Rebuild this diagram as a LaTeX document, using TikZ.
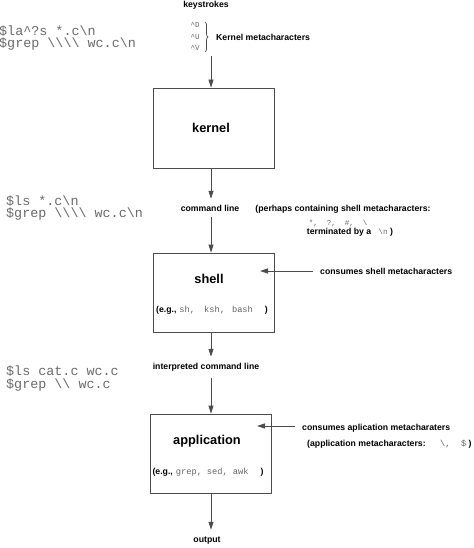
\documentclass[tikz,border=0pt]{standalone}
\usepackage{fontspec}
\setmainfont{Liberation Sans}
\newfontfamily\mymono{Liberation Mono}
\usetikzlibrary{arrows.meta,decorations.pathreplacing}
\begin{document}
\begin{tikzpicture}[x=1bp,y=-1bp,
  lbl/.style={inner sep=0pt,font=\fontsize{8.7bp}{10bp}\selectfont\bfseries},
  big/.style={inner sep=0pt,font=\fontsize{12.8bp}{14bp}\selectfont\bfseries},
  cmdtxt/.style={inner sep=0pt,anchor=west,text=black!58,font=\fontsize{13.4bp}{15bp}\selectfont\mymono},
  smono/.style={inner sep=0pt,text=black!60,font=\fontsize{7.5bp}{9bp}\selectfont\mymono},
  box/.style={draw=black!70,line width=0.8bp,minimum width=121bp,minimum height=79bp,inner sep=0pt},
  arr/.style={draw=black!70,line width=0.8bp,-{Triangle[length=8bp,width=5bp]}},
  plain/.style={draw=black!70,line width=0.8bp}
]
\useasboundingbox[fill=white] (0,0) rectangle (474,548);
\newcommand{\bs}{\textbackslash}
\newcommand{\ms}[1]{{\mymono\mdseries\color{black!60}#1}}

% left command text
\node[cmdtxt] (c1a) at (-1,31) {\$la\textasciicircum?s *.c\bs n};
\node[cmdtxt] (c1b) at (-1,44.5) {\$grep \bs\bs\bs\bs{} wc.c\bs n};
\node[cmdtxt] (c2a) at (6,201) {\$ls *.c\bs n};
\node[cmdtxt] (c2b) at (6,214.5) {\$grep \bs\bs\bs\bs{} wc.c\bs n};
\node[cmdtxt] (c3a) at (6,371) {\$ls cat.c wc.c};
\node[cmdtxt] (c3b) at (6,385) {\$grep \bs\bs{} wc.c};

% keystrokes
\node[lbl] (keys) at (206,5) {keystrokes};
\node[smono] (kd) at (195,25) {\textasciicircum D};
\node[smono] (ku) at (195,37) {\textasciicircum U};
\node[smono] (kv) at (195,48) {\textasciicircum V};
\coordinate (bt) at (205,22);
\coordinate (bb) at (205,52);
\draw[plain,line width=0.7bp,decorate,decoration={brace,amplitude=3bp}] (bt) -- (bb);
\node[lbl,anchor=west] (kmeta) at (216,37) {Kernel metacharacters};
\coordinate (ks) at (211,56);

% kernel
\node[box,minimum height=80bp] (kernel) at (213.5,128) {};
\node[big] (kerneltxt) at (211,128) {kernel};
\draw[arr] (ks) -- (ks |- kernel.north);

% command line
\node[lbl,minimum height=18bp] (cmd) at (210,208) {command line};
\draw[arr] (kernel.south -| ks) -- (cmd.north -| ks);

\node[lbl] (p1) at (343,209) {(perhaps containing shell metacharacters:};
\node[smono] (p2) at (338,223) {*,~~?,~~\#,~~\bs};
\node[lbl] (p3) at (350,232.5) {terminated by a~~~\ms{\fontsize{7.8bp}{9bp}\selectfont\bs n}~)};

% shell
\node[box] (shell) at (213.5,292.5) {};
\node[big] (shelltxt) at (209,279) {shell};
\node[lbl] (shelleg) at (212,310) {(e.g.,\hspace{3bp}\ms{sh,\hspace{9bp}ksh,\hspace{7bp}bash}\hspace{12bp})};
\draw[arr] (cmd.south -| ks) -- (shell.north -| ks);
\node[lbl,anchor=west] (cshell) at (320,271) {consumes shell metacharacters};
\coordinate (shtip) at (260,271);
\draw[arr] (313,271) -- (shtip);

% interpreted
\node[lbl,minimum height=21bp] (interp) at (206,367.5) {interpreted command line};
\draw[arr] (shell.south -| ks) -- (interp.north -| ks);

% application
\node[box] (app) at (211,453.5) {};
\node[big] (apptxt) at (207,441) {application};
\node[lbl] (appeg) at (208,472) {(e.g.,\hspace{3bp}\ms{grep,\hspace{5bp}sed,\hspace{5bp}awk}\hspace{12bp})};
\draw[arr] (interp.south -| ks) -- (app.north -| ks);
\node[lbl,anchor=west] (capp) at (302,428) {consumes aplication metacharaters};
\coordinate (aptip) at (257,426);
\draw[arr] (295,426) -- (aptip);
\node[lbl,anchor=west] (ameta) at (307,444) {(application metacharacters:~~~~~~\ms{\bs,~~\$}~)};

% output
\node[lbl,minimum height=22bp] (out) at (207,541) {output};
\draw[arr] (app.south -| ks) -- (out.north -| ks);
\end{tikzpicture}
\end{document}
